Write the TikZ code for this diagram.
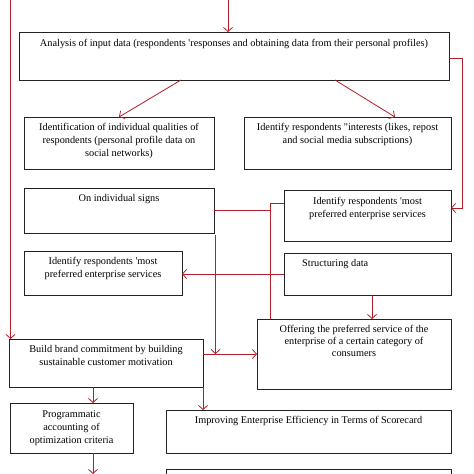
\documentclass[tikz,border=0pt]{standalone}
\usepackage{fontspec}
\setmainfont{Liberation Serif}[Ligatures=TeXOff]
\usetikzlibrary{arrows.meta}
\definecolor{lred}{RGB}{178,30,42}
\definecolor{bord}{RGB}{35,35,35}
\tikzset{
  box/.style={draw=bord, line width=0.8pt, fill=white, inner sep=0pt, outer sep=0pt},
  txt/.style={inner sep=0pt, align=center, font=\fontsize{10.3}{13}\selectfont},
  ln/.style={draw=lred, line width=0.8pt},
  arr/.style={draw=lred, line width=0.8pt, -{Straight Barb[length=4pt,width=9pt]}}
}
\newcommand\bx[7]{%
  \node[box, anchor=north west, minimum width={(#4-#2)*1pt}, minimum height={(#5-#3)*1pt}] (#1) at (#2,#3) {};
  \node[txt, anchor=north] (#1t) at ({(#2+#4)/2},#6) {#7};}
\begin{document}
\begin{tikzpicture}[x=1pt,y=-1pt]
\fill[white] (0,0) rectangle (474,474);
\clip (0,0) rectangle (474,474);
\useasboundingbox (0,0) rectangle (474,474);
% boxes
\bx{an}{19}{32}{449}{80}{39.5}{Analysis of input data (respondents 'responses and obtaining data from their personal profiles)}
\bx{id}{24}{117}{214}{169}{123.5}{Identification of individual qualities of\\respondents (personal profile data on\\social networks)}
\bx{ii}{244}{117}{451}{169}{123.5}{Identify respondents "interests (likes, repost\\and social media subscriptions)}
\bx{ois}{24}{188}{214}{233}{194.5}{On individual signs}
\bx{bfive}{284}{190}{451}{241}{197.5}{Identify respondents 'most\\preferred enterprise services}
\bx{bsix}{24}{251}{182}{295}{257.5}{Identify respondents 'most\\preferred enterprise services}
\node[box, anchor=north west, minimum width=167pt, minimum height=42pt] (sd) at (284,253) {};
\node[txt, anchor=north west] (sdt) at (302,259.5) {Structuring data};
\node[box, anchor=north west, minimum width=194pt, minimum height=70pt] (of) at (257,319) {};
\node[txt, anchor=north, font=\fontsize{10.3}{12}\selectfont] (oft) at (354,325.5) {Offering the preferred service of the\\enterprise of a certain category of\\consumers};
\bx{bb}{9}{339}{203}{387}{345.5}{Build brand commitment by building\\sustainable customer motivation}
\bx{pa}{10}{403}{133}{453}{410.5}{Programmatic\\accounting of\\optimization criteria}
\bx{im}{166}{410}{451}{453}{416.5}{Improving Enterprise Efficiency in Terms of Scorecard}
\node[box, anchor=north west, minimum width=285pt, minimum height=30pt] (last) at (166,469) {};
% connectors
\coordinate (topin) at (228,0);
\draw[arr] (topin) -- (topin |- an.north);
\coordinate (lefttop) at (10.5,0);
\draw[arr] (lefttop) -- (lefttop |- bb.north);
\draw[arr] ([yshift=-2pt]an.east) -- ++(13,0) |- ([yshift=7.5pt]bfive.east);
\draw[arr] ([xshift=-53pt]an.south) -- (id.north);
\draw[arr] ([xshift=-12.5pt]an.south -| ii.north) -- ([xshift=47.5pt]ii.north);
\coordinate (jn) at (270,203);
\draw[ln] ([yshift=12.5pt]bfive.west) -- (jn) -- (jn |- of.north);
\draw[ln] (ois.east) -- (ois.east -| jn);
\draw[arr] (bb.east |- of.west) -- (of.west);
\coordinate (dn) at (215.5,235);
\draw[arr] (dn) -- (dn |- of.west);
\draw[arr] (sd.west) -- (sd.west -| bsix.east);
\draw[arr] ([xshift=4.5pt]sd.south) -- ([xshift=4.5pt]sd.south |- of.north);
\draw[arr] ([xshift=-13pt]bb.south) -- ([xshift=-13pt]bb.south |- pa.north);
\draw[arr] (bb.south east) -- (bb.south east |- im.north);
\coordinate (bot) at (93,474);
\draw[arr] (pa.south -| bot) -- (bot);
\end{tikzpicture}
\end{document}
